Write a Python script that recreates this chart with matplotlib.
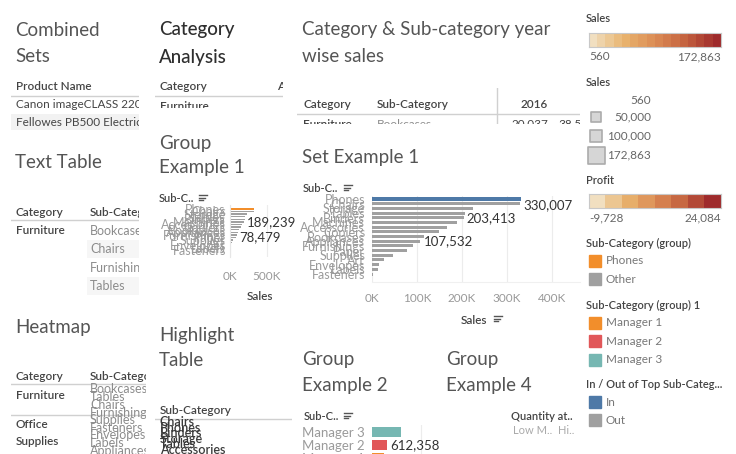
import numpy as np
import matplotlib.pyplot as plt
from matplotlib import colors

plt.rcParams['font.family'] = ['Lato', 'DejaVu Sans']

# ---- data ----
sub_cats = ['Phones', 'Chairs', 'Storage', 'Tables', 'Binders', 'Machines', 'Accessories',
            'Copiers', 'Bookcases', 'Appliances', 'Furnishings', 'Paper', 'Supplies', 'Art',
            'Envelopes', 'Labels', 'Fasteners']
sub_sales = [330007, 328449, 223844, 206966, 203413, 189239, 167380, 149528, 114880,
             107532, 91705, 78479, 46674, 27119, 16476, 12486, 3024]
set1_labelled = ['Phones', 'Binders', 'Appliances']
grp1_labelled = ['Machines', 'Paper']

managers = ['Manager 3', 'Manager 2', 'Manager 1']
manager_sales = [1195000, 612358, 490000]
manager_colors = ['#76b7b2', '#e15759', '#f28e2b']

heat_furn = ['Bookcases', 'Tables', 'Chairs', 'Furnishings']
heat_office = ['Supplies', 'Fasteners', 'Envelopes', 'Labels', 'Appliances']
highlight_subs = ['Chairs', 'Phones', 'Binders', 'Storage', 'Tables', 'Accessories']

sales_range = ['560', '172,863']
size_values = [560, 50000, 100000, 172863]
profit_range = ['-9,728', '24,084']

W, H = 736, 454
fig = plt.figure(figsize=(W / 100, H / 100), dpi=100)

DARK = '#333333'
MID = '#555555'
GREY = '#8c8c8c'
LINE = '#d0d0d0'
HEAD = 'semibold'


def rect(x0, y0, x1, y1):
    return [x0 / W, 1 - y1 / H, (x1 - x0) / W, (y1 - y0) / H]


def panel(x0, y0, x1, y1):
    ax = fig.add_axes(rect(x0, y0, x1, y1))
    ax.set_xlim(x0, x1)
    ax.set_ylim(y1, y0)
    ax.axis('off')
    return ax


def txt(ax, x, y, s, size=8.5, color=DARK, weight='normal', ha='left', clip=True):
    ax.text(x, y, s, fontsize=size, color=color, fontweight=weight, ha=ha, va='center',
            clip_on=clip)


def sort_icon(ax, x, y):
    for i, ln in enumerate([8, 6, 4]):
        ax.plot([x, x + ln], [y + i * 2.6, y + i * 2.6], color=MID, lw=1.0, clip_on=False)


ov = panel(0, 0, W, H)

# ---- titles ----
titles = [(15, 30, 'Combined'), (15, 57, 'Sets'), (302, 30, 'Category & Sub-category year'),
          (302, 57, 'wise sales'), (15, 163, 'Text Table'), (159, 143, 'Group'),
          (159, 168, 'Example 1'), (302, 158, 'Set Example 1'), (15, 328, 'Heatmap'),
          (159, 336, 'Highlight'), (159, 361, 'Table'), (302, 360, 'Group'),
          (302, 386, 'Example 2'), (446, 360, 'Group'), (446, 386, 'Example 4')]
for x, y, s in titles:
    txt(ov, x, y, s, size=13.5, color=MID, clip=False)
txt(ov, 159, 30, 'Category', size=13.5, color='#2e2e2e', weight='medium', clip=False)
txt(ov, 159, 57, 'Analysis', size=13.5, color='#2e2e2e', weight='medium', clip=False)

# ---- Combined Sets table ----
p = panel(11, 78, 139, 131)
txt(p, 16, 86, 'Product Name', weight=HEAD, color='#444')
p.plot([11, 139], [96, 96], color=LINE, lw=1)
txt(p, 16, 104, 'Canon imageCLASS 2200 Advanced Copier', color='#444')
p.fill_between([11, 139], 114, 130, color='#f2f2f2', lw=0)
txt(p, 16, 122, 'Fellowes PB500 Electric Punch', color='#444')

# ---- Category Analysis table ----
p = panel(155, 78, 283, 108)
txt(p, 160, 86, 'Category', weight=HEAD, color='#444')
txt(p, 277, 86, 'Avg. Sales', weight=HEAD, color='#444')
p.plot([155, 283], [96, 96], color=LINE, lw=1)
txt(p, 160, 106, 'Furniture', weight=HEAD, color='#444')

# ---- year wise sales table ----
p = panel(297, 88, 580, 124)
txt(p, 303, 104, 'Category', weight=HEAD, color='#444')
txt(p, 377, 104, 'Sub-Category', weight=HEAD, color='#444')
txt(p, 534, 104, '2016', weight=HEAD, color='#444', ha='center')
p.plot([497, 497], [88, 124], color=LINE, lw=1)
p.plot([297, 580], [114, 114], color=LINE, lw=1)
txt(p, 303, 124, 'Furniture', weight=HEAD, color='#444')
txt(p, 377, 124, 'Bookcases', color=GREY)
txt(p, 548, 124, '20,037', color='#444', ha='right')
txt(p, 558, 124, '38,544', color='#444')

# ---- Text Table ----
p = panel(11, 203, 139, 296)
txt(p, 16, 212, 'Category', weight=HEAD, color='#444')
txt(p, 90, 212, 'Sub-Category', weight=HEAD, color='#444')
p.plot([11, 139], [220, 220], color=LINE, lw=1)
txt(p, 16, 231, 'Furniture', weight=HEAD, color='#444')
for i, s in enumerate(['Bookcases', 'Chairs', 'Furnishings', 'Tables']):
    y = 231 + i * 18.3
    if i % 2:
        p.fill_between([87, 139], y - 9, y + 9, color='#f6f6f6', lw=0)
    txt(p, 90, y, s, color=GREY, size=9)

# ---- Heatmap ----
p = panel(11, 367, 146, 454)
txt(p, 16, 376, 'Category', weight=HEAD, color='#444')
txt(p, 90, 376, 'Sub-Category', weight=HEAD, color='#444')
p.plot([11, 146], [384, 384], color=LINE, lw=1)
txt(p, 16, 395, 'Furniture', weight=HEAD, color='#444')
for i, s in enumerate(heat_furn):
    txt(p, 90, 389 + i * 7.9, s, color=GREY, size=9)
p.plot([11, 146], [415, 415], color=LINE, lw=1)
txt(p, 16, 424, 'Office', weight=HEAD, color='#444')
txt(p, 16, 441, 'Supplies', weight=HEAD, color='#444')
for i, s in enumerate(heat_office):
    txt(p, 90, 420 + i * 7.7, s, color=GREY, size=9)

# ---- Highlight Table ----
p = panel(155, 400, 292, 454)
txt(p, 160, 410, 'Sub-Category', weight=HEAD, color='#444')
p.plot([155, 292], [419, 419], color=LINE, lw=1)
for i, s in enumerate(highlight_subs):
    txt(p, 160, 422 + i * 5.6, s, color='#3a3a3a', size=9, weight=HEAD)

# ---- Set Example 1 bar chart ----
idx = np.arange(len(sub_cats))
ax = fig.add_axes(rect(372, 196, 580, 282))
ax.set_facecolor('none')
set_cols = ['#4e79a7' if s == 'Phones' else '#a0a0a0' for s in sub_cats]
ax.barh(idx, sub_sales, height=0.65, color=set_cols, zorder=2)
ax.set_ylim(len(sub_cats) - 1 + 1.7, -0.64)
ax.set_xlim(0, 462000)
ax.set_xticks([0, 100000, 200000, 300000, 400000])
ax.set_xticklabels(['0K', '100K', '200K', '300K', '400K'], color='#999', fontsize=8.5)
ax.set_yticks(idx)
ax.set_yticklabels(sub_cats, color='#9a9a9a', fontsize=9)
ax.tick_params(length=0, pad=8, axis='x')
ax.tick_params(length=0, pad=5, axis='y')
ax.grid(axis='x', color='#ececec', lw=0.8, zorder=0)
for sp in ['top', 'right', 'left']:
    ax.spines[sp].set_visible(False)
ax.spines['bottom'].set_color('#f0f0f0')
for s in set1_labelled:
    i = sub_cats.index(s)
    dy = -6 if i == 0 else 0
    ax.annotate(f'{sub_sales[i]:,}', (sub_sales[i], i), xytext=(3, dy), textcoords='offset pixels',
                fontsize=9.5, color='#333', va='center', annotation_clip=False)
txt(ov, 303, 189, 'Sub-C..', size=8, weight=HEAD, color='#444', clip=False)
sort_icon(ov, 344, 185)
txt(ov, 461, 320, 'Sales', size=8.5, weight=HEAD, color='#444', clip=False)
sort_icon(ov, 494, 316)

# ---- Group Example 1 bar chart ----
ax = fig.add_axes(rect(230, 205, 296, 257))
ax.set_facecolor('none')
grp_cols = ['#f28e2b' if s == 'Phones' else '#a0a0a0' for s in sub_cats]
ax.barh(idx, sub_sales, height=0.6, color=grp_cols, zorder=2)
ax.set_ylim(len(sub_cats) - 1 + 2.5, -1.5)
ax.set_xlim(0, 892000)
ax.set_xticks([0, 500000])
ax.set_xticklabels(['0K', '500K'], color='#999', fontsize=8.5)
ax.set_yticks(idx)
ax.set_yticklabels(sub_cats, color='#9a9a9a', fontsize=9)
ax.tick_params(length=0, pad=10, axis='x')
ax.tick_params(length=0, pad=3, axis='y')
ax.grid(axis='x', color='#ececec', lw=0.8, zorder=0)
for sp in ['top', 'right', 'bottom']:
    ax.spines[sp].set_visible(False)
ax.spines['left'].set_color('#e6e6e6')
for s in grp1_labelled:
    i = sub_cats.index(s)
    ax.annotate(f'{sub_sales[i]:,}', (sub_sales[i], i), xytext=(3, 0), textcoords='offset pixels',
                fontsize=9.5, color='#333', va='center', annotation_clip=False)
txt(ov, 159, 199, 'Sub-C..', size=8, weight=HEAD, color='#444', clip=False)
sort_icon(ov, 199, 195)
txt(ov, 260, 296, 'Sales', size=8.5, weight=HEAD, color='#444', ha='center', clip=False)

# ---- Group Example 2 bar chart ----
ax = fig.add_axes(rect(372, 425, 440, 465))
ax.set_facecolor('none')
midx = np.arange(len(managers))
ax.barh(midx, manager_sales, height=0.77, color=manager_colors, zorder=2)
ax.set_ylim(2.54, -0.54)
ax.set_xlim(0, 2800000)
ax.set_xticks([2000000])
ax.set_xticklabels([])
ax.set_yticks(midx)
ax.set_yticklabels(managers, color='#9a9a9a', fontsize=9.5)
ax.tick_params(length=0, pad=5)
ax.grid(axis='x', color='#ececec', lw=0.8, zorder=0)
for sp in ax.spines.values():
    sp.set_visible(False)
i = managers.index('Manager 2')
ax.annotate(f'{manager_sales[i]:,}', (manager_sales[i], i), xytext=(3, 0),
            textcoords='offset pixels', fontsize=9.5, color='#333', va='center')
txt(ov, 304, 417, 'Sub-C..', size=8, weight=HEAD, color='#444', clip=False)
sort_icon(ov, 344, 413)

# ---- Group Example 4 ----
txt(ov, 511, 416, 'Quantity at..', size=8, weight=HEAD, color='#444', clip=False)
txt(ov, 513, 431, 'Low M..  Hi..', size=8, color='#aaa', clip=False)

# ---- legends ----
cmap = colors.LinearSegmentedColormap.from_list(
    'rg', ['#f1dfc0', '#e9b46e', '#dc8c55', '#c4623f', '#9e2a2b'])


def colour_legend(y0, title, nsteps, labels):
    txt(ov, 586, y0 - 14, title, size=8, weight=HEAD, color='#444', clip=False)
    cax = fig.add_axes(rect(589, y0, 721, y0 + 14))
    cax.imshow(np.linspace(0, 1, nsteps)[None, :], aspect='auto',
               cmap=colors.ListedColormap(cmap(np.linspace(0, 1, nsteps))))
    cax.set_xticks([])
    cax.set_yticks([])
    for sp in cax.spines.values():
        sp.set_color('#c8c8c8')
    txt(ov, 589, y0 + 24, labels[0], size=8.5, color='#666', clip=False)
    txt(ov, 721, y0 + 24, labels[1], size=8.5, color='#666', ha='right', clip=False)


colour_legend(33, 'Sales', 16, sales_range)
colour_legend(194, 'Profit', 8, profit_range)

txt(ov, 586, 82, 'Sales', size=8, weight=HEAD, color='#444', clip=False)
size_y = [100, 117, 136, 155]
side = 17 * 0.72
ov.scatter([596] * 4, size_y, s=[v / size_values[-1] * side ** 2 for v in size_values],
           marker='s', color='#d6d6d6', edgecolor='#ababab', linewidth=1.2, clip_on=False)
for y, v in zip(size_y, size_values):
    txt(ov, 651, y, f'{v:,}', size=8.5, color='#666', ha='right', clip=False)

cat_legends = [
    (243, 'Sub-Category (group)', ['Phones', 'Other'], ['#f28e2b', '#a0a0a0']),
    (305, 'Sub-Category (group) 1', ['Manager 1', 'Manager 2', 'Manager 3'],
     ['#f28e2b', '#e15759', '#76b7b2']),
    (384, 'In / Out of Top Sub-Categ...', ['In', 'Out'], ['#4e79a7', '#a0a0a0']),
]
for y0, title, labs, cols in cat_legends:
    txt(ov, 586, y0, title, size=8, weight=HEAD, color='#444', clip=False)
    for k, (lab, c) in enumerate(zip(labs, cols)):
        y = y0 + 18 + k * 18.3
        ov.add_patch(plt.Rectangle((589, y - 6), 12, 12, color=c, clip_on=False))
        txt(ov, 606, y, lab, size=8.5, color='#777', clip=False)

fig.savefig('out.png', dpi=100)
